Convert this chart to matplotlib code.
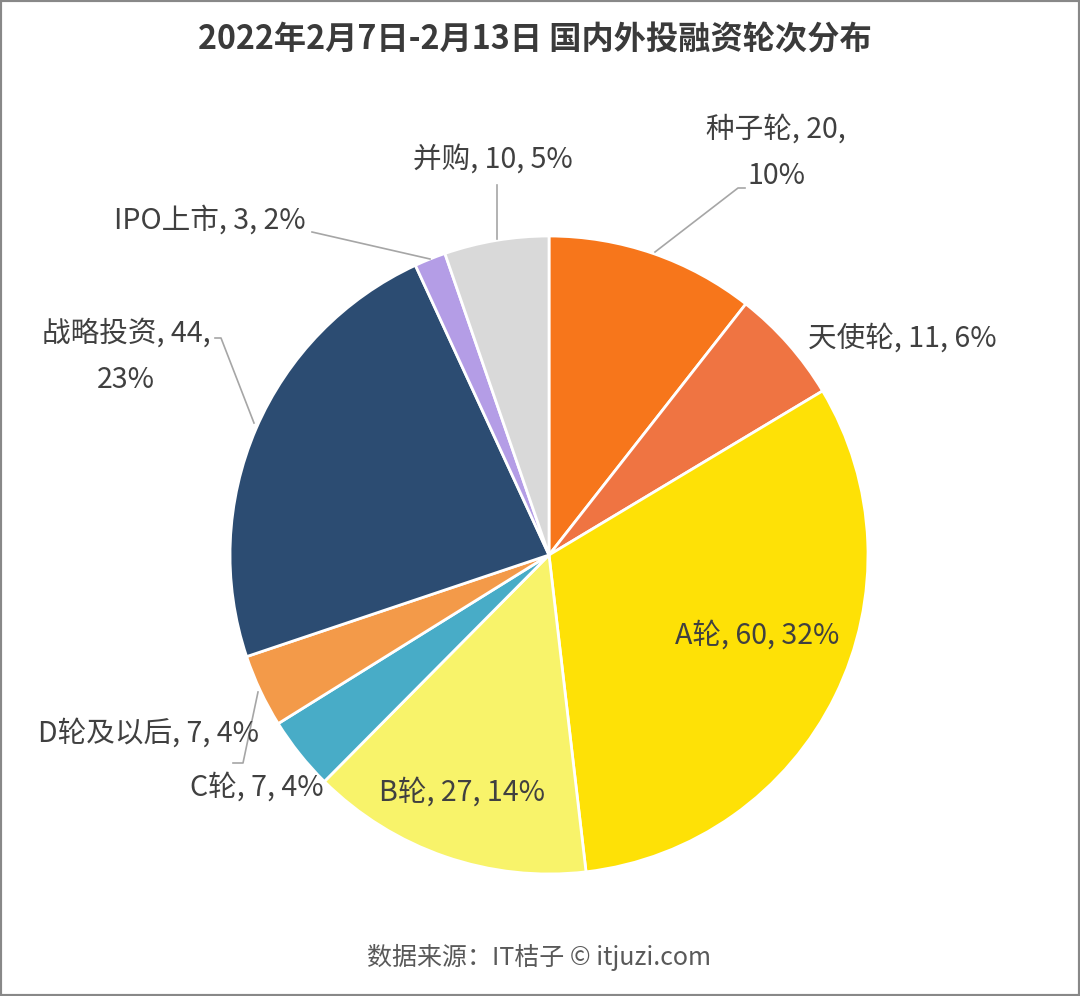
import matplotlib
matplotlib.use("Agg")
import matplotlib.pyplot as plt
from matplotlib.patches import Rectangle

plt.rcParams['font.family'] = ['Noto Sans CJK SC', 'DejaVu Sans']

# ---- data ----
categories = ["种子轮", "天使轮", "A轮", "B轮", "C轮", "D轮及以后", "战略投资", "IPO上市", "并购"]
counts = [20, 11, 60, 27, 7, 7, 44, 3, 10]
percent_labels = ["10%", "6%", "32%", "14%", "4%", "4%", "23%", "2%", "5%"]
colors = ["#F7761B", "#EF7442", "#FEE106", "#F8F36A", "#48ACC7",
          "#F39A49", "#2C4C72", "#B49DE6", "#D9D9D9"]
title = "2022年2月7日-2月13日 国内外投融资轮次分布"
source = "数据来源：IT桔子 © itjuzi.com"

W, H = 1080, 996
fig = plt.figure(figsize=(W / 100, H / 100), dpi=100)
ax = fig.add_axes([0, 0, 1, 1])

cx, cy, r = 549, H - 555, 319
ax.pie(counts, colors=colors, startangle=90, counterclock=False,
       center=(cx, cy), radius=r,
       wedgeprops=dict(edgecolor="white", linewidth=2))
ax.set_xlim(0, W)
ax.set_ylim(0, H)
ax.set_aspect('auto')
ax.axis('off')

# label layout (pixel coords from top-left): x, y, multi-line split
label_pos = {
    "种子轮": (776, 153, True),
    "天使轮": (902, 339, False),
    "A轮": (757, 636, False),
    "B轮": (462, 793, False),
    "C轮": (257, 788, False),
    "D轮及以后": (149, 734, False),
    "战略投资": (126, 357, True),
    "IPO上市": (210, 221, False),
    "并购": (493, 160, False),
}
for cat, cnt, pct in zip(categories, counts, percent_labels):
    x, y, split = label_pos[cat]
    if split:
        txt = f"{cat}, {cnt},\n{pct}"
    else:
        txt = f"{cat}, {cnt}, {pct}"
    ax.text(x, H - y, txt, ha="center", va="center", fontsize=20.6,
            color="#404040", linespacing=1.7)

# leader lines (pixel coords)
leaders = {
    "种子轮": [(655, 252), (738, 188), (745, 188)],
    "并购": [(497, 185), (497, 239)],
    "IPO上市": [(312, 232), (430, 259)],
    "战略投资": [(215, 338), (221, 338), (254, 423)],
    "D轮及以后": [(258, 692), (243, 763), (233, 763)],
}
for pts in leaders.values():
    xs = [p[0] for p in pts]
    ys = [H - p[1] for p in pts]
    ax.plot(xs, ys, color="#A6A6A6", linewidth=1.2)

ax.text(535, H - 40, title, ha="center", va="center", fontsize=23.2,
        fontweight="bold", color="#3A3A3A")
ax.text(539, H - 957, source, ha="center", va="center", fontsize=18,
        color="#595959")

# outer frame
fig.patches.append(Rectangle((0, 0), 1, 1, transform=fig.transFigure,
                             fill=False, edgecolor="#888888", linewidth=3))

fig.savefig("out.png", dpi=100, facecolor="white")
